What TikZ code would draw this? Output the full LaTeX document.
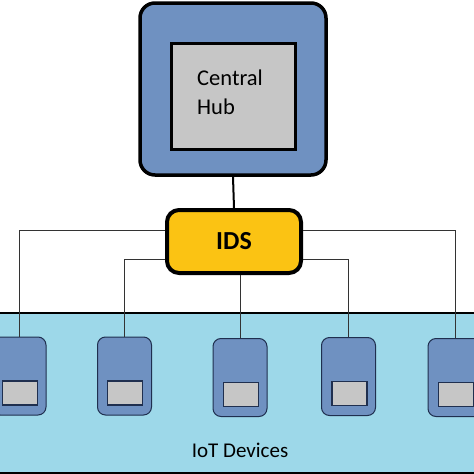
\documentclass[tikz,border=0pt]{standalone}
\usepackage{fontspec}
\setmainfont{Carlito}
\usetikzlibrary{positioning}

\definecolor{hubblue}{HTML}{6F91C1}
\definecolor{hubgrey}{HTML}{C6C6C6}
\definecolor{idsyellow}{HTML}{FBC313}
\definecolor{bandblue}{HTML}{9DD8E9}
\definecolor{devline}{HTML}{1F2F4F}

\tikzset{
    devbox/.style={draw=devline, line width=1pt, fill=hubblue, rounded corners=8pt,
        minimum width=54pt, minimum height=78pt, inner sep=0pt},
    screen/.style={draw=devline, line width=1.5pt, fill=hubgrey,
        minimum width=35pt, minimum height=24pt, inner sep=0pt},
    wire/.style={line width=1pt, draw=black!80}
}

\begin{document}
\begin{tikzpicture}[x=1pt, y=-1pt]
    \useasboundingbox (0,0) rectangle (474,474);

    % hub and ids
    \node[draw, line width=3.5pt, fill=hubblue, rounded corners=15pt, minimum width=186pt,
        minimum height=172pt, inner sep=0pt] (hub) at (233,89) {};
    \node[draw, line width=3pt, fill=hubgrey, minimum width=124pt, minimum height=106pt,
        inner sep=0pt] (core) at (233.5,96.5) {};
    \node[anchor=north west, align=left, inner sep=0pt, font=\fontsize{22.5}{29}\selectfont]
        (hublabel) at (197,70) {Central\\Hub};
    \node[draw, line width=4pt, fill=idsyellow, rounded corners=12pt, minimum width=134pt,
        minimum height=63pt, inner sep=0pt, font=\fontsize{26}{30}\selectfont\bfseries]
        (ids) at (234,241.5) {IDS};

    \draw[line width=2pt] (hub.south) -- (ids.north);

    % device band
    \fill[bandblue] (-5,313) rectangle (480,472);
    \draw[line width=2.5pt] (-5,313) -- (480,313);
    \draw[line width=2.5pt] (-5,473.5) -- (480,473.5);
    \node[font=\fontsize{21}{25}\selectfont] (iot) at (240,450) {IoT Devices};

    \node[devbox] (d1) at (19,376) {};
    \node[devbox] (d2) at (124.5,376) {};
    \node[devbox] (d3) at (240,377.5) {};
    \node[devbox] (d4) at (348.5,376.5) {};
    \node[devbox] (d5) at (455,377.5) {};
    \node[screen] (s1) at (20,393) {};
    \node[screen] (s2) at (125,393) {};
    \node[screen] (s3) at (241,394.5) {};
    \node[screen] (s4) at (349.5,393.5) {};
    \node[screen] (s5) at (456,394.5) {};

    \draw[wire] ([yshift=11.5pt]ids.west) -| (d1.north);
    \draw[wire] ([yshift=-17.5pt]ids.west) -| (d2.north);
    \draw[wire] (d3.north |- ids.south) -- (d3.north);
    \draw[wire] ([yshift=-17.5pt]ids.east) -| (d4.north);
    \draw[wire] ([yshift=11.5pt]ids.east) -| (d5.north);
\end{tikzpicture}
\end{document}
